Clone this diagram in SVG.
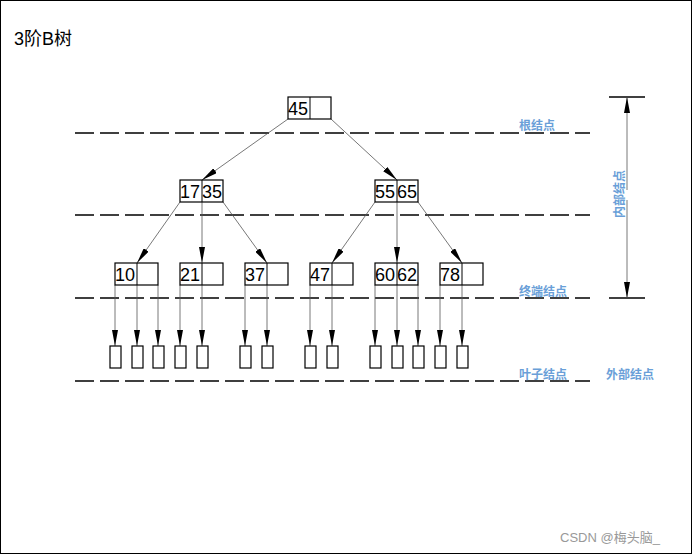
<svg xmlns="http://www.w3.org/2000/svg" width="692" height="554" viewBox="0 0 692 554">
<style>
.box{fill:#fff;stroke:#000;stroke-width:1.2}
.n{font-family:"Liberation Sans",sans-serif;font-size:18px;fill:#000}
.dash{stroke:#000;stroke-width:1.5;stroke-dasharray:19 6}
.c{stroke:#555;stroke-width:0.8;fill:none;marker-end:url(#ah)}
.lb{font-family:"Liberation Sans","Noto Sans CJK SC",sans-serif;font-size:12px;font-weight:bold;fill:#6a9fd8}
</style>
<defs>
<marker id="ah" viewBox="0 0 16 6" refX="16" refY="3" markerWidth="16" markerHeight="6" markerUnits="userSpaceOnUse" orient="auto"><path d="M0,0 L16,3 L0,6 Z" fill="#000"/></marker>
</defs>
<rect x="0.5" y="0.5" width="691" height="553" fill="#fff" stroke="#000"/>
<text x="14" y="45" font-family="Liberation Sans,'Noto Sans CJK SC',sans-serif" font-size="18">3阶B树</text>
<g id="levels">
<line class="dash" x1="75" y1="133" x2="590" y2="133"/>
<line class="dash" x1="75" y1="215" x2="590" y2="215"/>
<line class="dash" x1="75" y1="298" x2="590" y2="298"/>
<line class="dash" x1="75" y1="381" x2="590" y2="381"/>
</g>
<g id="labels">
<text class="lb" x="519" y="130">根结点</text>
<text class="lb" x="519" y="296">终端结点</text>
<text class="lb" x="519" y="379">叶子结点</text>
<text class="lb" x="606" y="379">外部结点</text>
<text class="lb" transform="translate(624,194) rotate(-90)" text-anchor="middle">内部结点</text>
</g>
<g id="dimension">
<line x1="609" y1="97" x2="645" y2="97" stroke="#000" stroke-width="1.5"/>
<line x1="609" y1="298" x2="645" y2="298" stroke="#000" stroke-width="1.5"/>
<line x1="627" y1="190" x2="627" y2="97" class="c" stroke="#999"/>
<line x1="627" y1="200" x2="627" y2="298" class="c" stroke="#999"/>
</g>
<g id="connectors">
<line class="c" x1="288" y1="119" x2="202" y2="180"/>
<line class="c" x1="331" y1="119" x2="397" y2="180"/>
<line class="c" x1="180" y1="202" x2="137" y2="263"/>
<line class="c" x1="202" y1="202" x2="202" y2="263"/>
<line class="c" x1="223" y1="202" x2="267" y2="263"/>
<line class="c" x1="375" y1="202" x2="332" y2="263"/>
<line class="c" x1="397" y1="202" x2="397" y2="263"/>
<line class="c" x1="418" y1="202" x2="462" y2="263"/>
<line class="c" x1="115" y1="285" x2="115" y2="346"/>
<line class="c" x1="137" y1="285" x2="137" y2="346"/>
<line class="c" x1="158" y1="285" x2="158" y2="346"/>
<line class="c" x1="180" y1="285" x2="180" y2="346"/>
<line class="c" x1="202" y1="285" x2="202" y2="346"/>
<line class="c" x1="245" y1="285" x2="245" y2="346"/>
<line class="c" x1="267" y1="285" x2="267" y2="346"/>
<line class="c" x1="310" y1="285" x2="310" y2="346"/>
<line class="c" x1="332" y1="285" x2="332" y2="346"/>
<line class="c" x1="375" y1="285" x2="375" y2="346"/>
<line class="c" x1="397" y1="285" x2="397" y2="346"/>
<line class="c" x1="418" y1="285" x2="418" y2="346"/>
<line class="c" x1="440" y1="285" x2="440" y2="346"/>
<line class="c" x1="462" y1="285" x2="462" y2="346"/>
</g>
<g id="n45"><rect class="box" x="288" y="97" width="43" height="22"/><line x1="310" y1="97" x2="310" y2="119" stroke="#000"/><text class="n" x="288" y="115">45</text></g>
<g id="n1735"><rect class="box" x="180" y="180" width="43" height="22"/><line x1="202" y1="180" x2="202" y2="202" stroke="#000"/><text class="n" x="180" y="198">17</text><text class="n" x="202" y="198">35</text></g>
<g id="n5565"><rect class="box" x="375" y="180" width="43" height="22"/><line x1="397" y1="180" x2="397" y2="202" stroke="#000"/><text class="n" x="375" y="198">55</text><text class="n" x="397" y="198">65</text></g>
<g id="n10"><rect class="box" x="115" y="263" width="43" height="22"/><line x1="137" y1="263" x2="137" y2="285" stroke="#000"/><text class="n" x="115" y="281">10</text></g>
<g id="n21"><rect class="box" x="180" y="263" width="43" height="22"/><line x1="202" y1="263" x2="202" y2="285" stroke="#000"/><text class="n" x="180" y="281">21</text></g>
<g id="n37"><rect class="box" x="245" y="263" width="43" height="22"/><line x1="267" y1="263" x2="267" y2="285" stroke="#000"/><text class="n" x="245" y="281">37</text></g>
<g id="n47"><rect class="box" x="310" y="263" width="43" height="22"/><line x1="332" y1="263" x2="332" y2="285" stroke="#000"/><text class="n" x="310" y="281">47</text></g>
<g id="n6062"><rect class="box" x="375" y="263" width="43" height="22"/><line x1="397" y1="263" x2="397" y2="285" stroke="#000"/><text class="n" x="375" y="281">60</text><text class="n" x="397" y="281">62</text></g>
<g id="n78"><rect class="box" x="440" y="263" width="43" height="22"/><line x1="462" y1="263" x2="462" y2="285" stroke="#000"/><text class="n" x="440" y="281">78</text></g>
<g id="leaves">
<rect class="box" x="110" y="346" width="11" height="22"/>
<rect class="box" x="132" y="346" width="11" height="22"/>
<rect class="box" x="153" y="346" width="11" height="22"/>
<rect class="box" x="175" y="346" width="11" height="22"/>
<rect class="box" x="197" y="346" width="11" height="22"/>
<rect class="box" x="240" y="346" width="11" height="22"/>
<rect class="box" x="262" y="346" width="11" height="22"/>
<rect class="box" x="305" y="346" width="11" height="22"/>
<rect class="box" x="327" y="346" width="11" height="22"/>
<rect class="box" x="370" y="346" width="11" height="22"/>
<rect class="box" x="392" y="346" width="11" height="22"/>
<rect class="box" x="413" y="346" width="11" height="22"/>
<rect class="box" x="435" y="346" width="11" height="22"/>
<rect class="box" x="457" y="346" width="11" height="22"/>
</g>
<text x="560" y="542" font-family="Liberation Sans,'Noto Sans CJK SC',sans-serif" font-size="13" fill="#999">CSDN @梅头脑_</text>
</svg>
